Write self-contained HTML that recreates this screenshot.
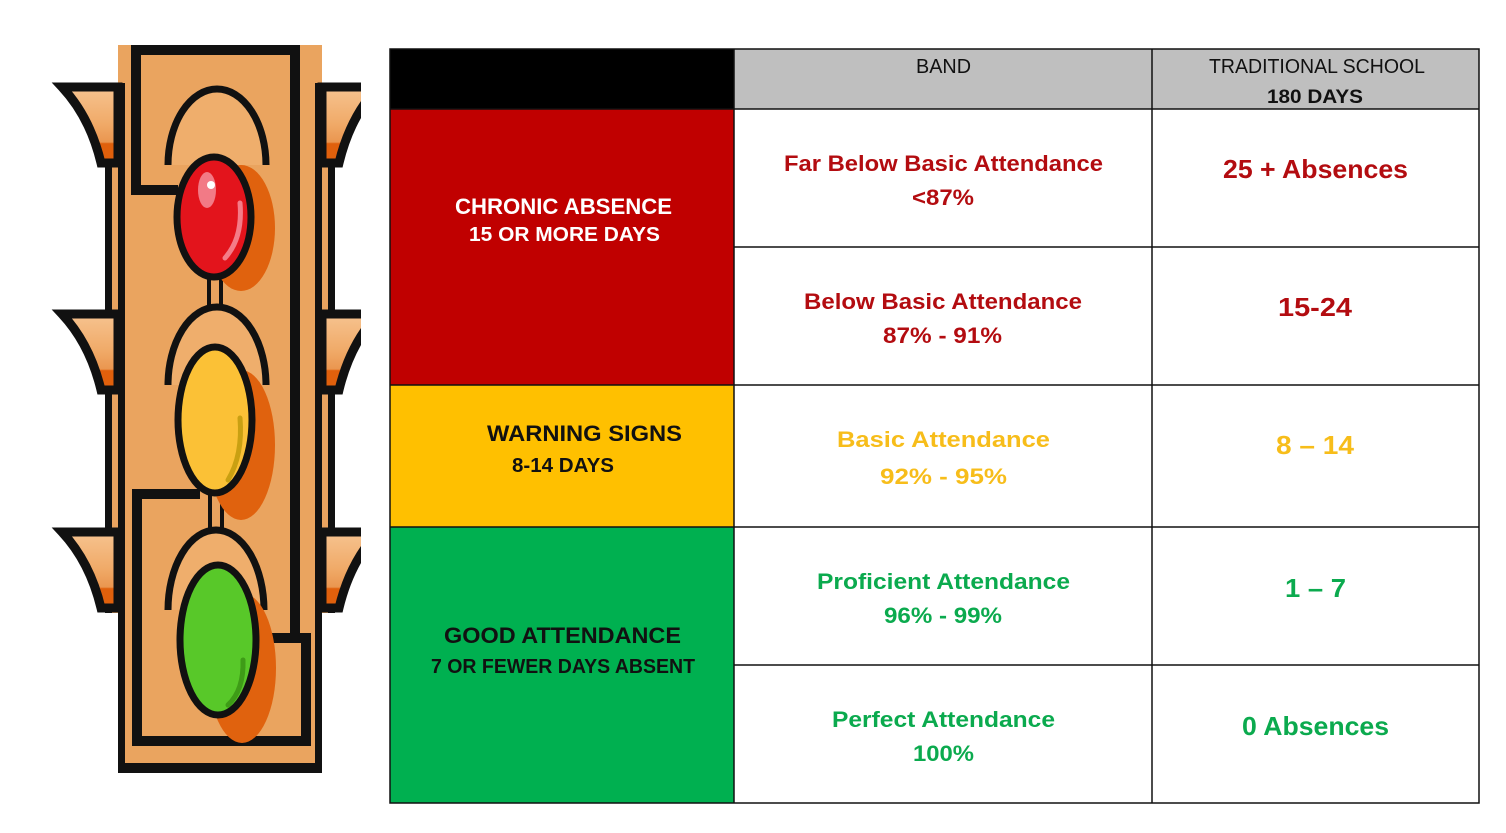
<!DOCTYPE html>
<html><head><meta charset="utf-8"><style>
html,body{margin:0;padding:0;background:#fff;}
svg{display:block;}
text{font-family:"Liberation Sans",Arial,sans-serif;}
.b{font-weight:bold;}
</style></head><body>
<svg width="1506" height="833" viewBox="0 0 1506 833" xmlns="http://www.w3.org/2000/svg">
<defs>
<clipPath id="c"><rect x="0" y="0" width="361" height="833"/></clipPath>
<linearGradient id="vg1" x1="0" y1="83" x2="0" y2="165" gradientUnits="userSpaceOnUse">
<stop offset="0" stop-color="#F7C694"/><stop offset="0.5" stop-color="#F0AA68"/><stop offset="0.72" stop-color="#EA9650"/><stop offset="0.74" stop-color="#E0600C"/><stop offset="1" stop-color="#E0600C"/>
</linearGradient>
<linearGradient id="vg2" x1="0" y1="310" x2="0" y2="392" gradientUnits="userSpaceOnUse">
<stop offset="0" stop-color="#F7C694"/><stop offset="0.5" stop-color="#F0AA68"/><stop offset="0.72" stop-color="#EA9650"/><stop offset="0.74" stop-color="#E0600C"/><stop offset="1" stop-color="#E0600C"/>
</linearGradient>
<linearGradient id="vg3" x1="0" y1="528" x2="0" y2="610" gradientUnits="userSpaceOnUse">
<stop offset="0" stop-color="#F7C694"/><stop offset="0.5" stop-color="#F0AA68"/><stop offset="0.72" stop-color="#EA9650"/><stop offset="0.74" stop-color="#E0600C"/><stop offset="1" stop-color="#E0600C"/>
</linearGradient>
</defs>
<rect width="1506" height="833" fill="#fff"/>

<!-- TRAFFIC LIGHT -->
<g clip-path="url(#c)">
  <rect x="118" y="45" width="204" height="728" fill="#EAA45F"/>
  <!-- left side -->
  <g>
    <rect x="105" y="83" width="20" height="530" fill="#E9A35F"/>
    <rect x="105" y="83" width="7" height="530" fill="#111"/>
    <path d="M62,314 L118,314 L118,390 L101,390 Q90,344 62,314 Z" fill="url(#vg2)" stroke="#111" stroke-width="9" stroke-linejoin="miter"/>
    <path d="M62,87 L118,87 L118,163 L101,163 Q90,117 62,87 Z" fill="url(#vg1)" stroke="#111" stroke-width="9" stroke-linejoin="miter"/>
    <path d="M62,532 L118,532 L118,608 L101,608 Q90,562 62,532 Z" fill="url(#vg3)" stroke="#111" stroke-width="9" stroke-linejoin="miter"/>
    <rect x="118" y="83" width="7" height="690" fill="#111"/>
  </g>
  <!-- right side (mirror) -->
  <g transform="translate(440,0) scale(-1,1)">
    <rect x="105" y="83" width="20" height="530" fill="#E9A35F"/>
    <rect x="105" y="83" width="7" height="530" fill="#111"/>
    <path d="M62,314 L118,314 L118,390 L101,390 Q90,344 62,314 Z" fill="url(#vg2)" stroke="#111" stroke-width="9" stroke-linejoin="miter"/>
    <path d="M62,87 L118,87 L118,163 L101,163 Q90,117 62,87 Z" fill="url(#vg1)" stroke="#111" stroke-width="9" stroke-linejoin="miter"/>
    <path d="M62,532 L118,532 L118,608 L101,608 Q90,562 62,532 Z" fill="url(#vg3)" stroke="#111" stroke-width="9" stroke-linejoin="miter"/>
    <rect x="118" y="83" width="7" height="690" fill="#111"/>
  </g>
  <rect x="118" y="763" width="204" height="10" fill="#111"/>
  <!-- frames -->
  <path d="M178,190 L136,190 L136,50 L295,50 L295,638 L250,638" fill="none" stroke="#111" stroke-width="10" stroke-linejoin="miter"/>
  <path d="M200,494 L137,494 L137,741 L306,741 L306,638 L290,638" fill="none" stroke="#111" stroke-width="10" stroke-linejoin="miter"/>
  <!-- necks -->
  <rect x="209" y="272" width="12" height="42" fill="#E9A35F" stroke="#111" stroke-width="4"/>
  <rect x="210" y="488" width="12" height="48" fill="#E9A35F" stroke="#111" stroke-width="4"/>
  <!-- red -->
  <path d="M168,165 A49,76 0 0 1 266,165" fill="#EFAE6C" stroke="#111" stroke-width="7"/>
  <ellipse cx="241" cy="228" rx="34" ry="63" fill="#E0620E"/>
  <ellipse cx="214" cy="217" rx="37" ry="60" fill="#E3141C" stroke="#111" stroke-width="7"/>
  <ellipse cx="207" cy="190" rx="9" ry="18" fill="#F27A86"/>
  <circle cx="211" cy="185" r="4" fill="#fff"/>
  <path d="M240,203 Q243,238 225,258" fill="none" stroke="#F47C88" stroke-width="5" stroke-linecap="round"/>
  <!-- yellow -->
  <path d="M168,385 A49,78 0 0 1 266,385" fill="#EFAE6C" stroke="#111" stroke-width="7"/>
  <ellipse cx="241" cy="445" rx="34" ry="75" fill="#E0620E"/>
  <ellipse cx="215" cy="420" rx="37" ry="73" fill="#FBC136" stroke="#111" stroke-width="7"/>
  <path d="M240,418 Q243,455 228,480" fill="none" stroke="#C9A012" stroke-width="5" stroke-linecap="round"/>
  <!-- green -->
  <path d="M168,610 A48,80 0 0 1 264,610" fill="#EFAE6C" stroke="#111" stroke-width="7"/>
  <ellipse cx="242" cy="668" rx="34" ry="75" fill="#E0620E"/>
  <ellipse cx="218" cy="640" rx="38" ry="75" fill="#58C829" stroke="#111" stroke-width="7"/>
  <path d="M243,660 Q244,690 228,705" fill="none" stroke="#3E9C17" stroke-width="5" stroke-linecap="round"/>
</g>

<!-- TABLE fills -->
<rect x="390" y="49" width="344" height="60" fill="#000"/>
<rect x="734" y="49" width="745" height="60" fill="#BFBFBF"/>
<rect x="390" y="109" width="344" height="276" fill="#C00000"/>
<rect x="390" y="385" width="344" height="142" fill="#FFC000"/>
<rect x="390" y="527" width="344" height="276" fill="#00B050"/>

<!-- grid lines -->
<g stroke="#111" stroke-width="1.5" fill="none">
  <rect x="390" y="49" width="1089" height="754"/>
  <line x1="734" y1="49" x2="734" y2="803"/>
  <line x1="1152" y1="49" x2="1152" y2="803"/>
  <line x1="390" y1="109" x2="1479" y2="109"/>
  <line x1="734" y1="247" x2="1479" y2="247"/>
  <line x1="390" y1="385" x2="1479" y2="385"/>
  <line x1="390" y1="527" x2="1479" y2="527"/>
  <line x1="734" y1="665" x2="1479" y2="665"/>
</g>

<!-- header text -->
<text x="916" y="73" font-size="20" fill="#111" textLength="55" lengthAdjust="spacingAndGlyphs">BAND</text>
<text x="1209" y="73" font-size="20" fill="#111" textLength="216" lengthAdjust="spacingAndGlyphs">TRADITIONAL SCHOOL</text>
<text class="b" x="1267" y="103" font-size="19" fill="#111" textLength="96" lengthAdjust="spacingAndGlyphs">180 DAYS</text>

<!-- column 1 -->
<text class="b" x="455" y="214" font-size="22" fill="#fff" textLength="217" lengthAdjust="spacingAndGlyphs">CHRONIC ABSENCE</text>
<text class="b" x="469" y="241" font-size="20" fill="#fff" textLength="191" lengthAdjust="spacingAndGlyphs">15 OR MORE DAYS</text>
<text class="b" x="487" y="441" font-size="22" fill="#111" textLength="195" lengthAdjust="spacingAndGlyphs">WARNING SIGNS</text>
<text class="b" x="512" y="472" font-size="20" fill="#111" textLength="102" lengthAdjust="spacingAndGlyphs">8-14 DAYS</text>
<text class="b" x="444" y="643" font-size="22" fill="#111" textLength="237" lengthAdjust="spacingAndGlyphs">GOOD ATTENDANCE</text>
<text class="b" x="431" y="673" font-size="20" fill="#111" textLength="264" lengthAdjust="spacingAndGlyphs">7 OR FEWER DAYS ABSENT</text>

<!-- column 2 -->
<g font-size="22" font-weight="bold">
<text x="784" y="171" fill="#B30C10" textLength="319" lengthAdjust="spacingAndGlyphs">Far Below Basic Attendance</text>
<text x="912" y="205" fill="#B30C10" textLength="62" lengthAdjust="spacingAndGlyphs">&lt;87%</text>
<text x="804" y="309" fill="#B30C10" textLength="278" lengthAdjust="spacingAndGlyphs">Below Basic Attendance</text>
<text x="883" y="343" fill="#B30C10" textLength="119" lengthAdjust="spacingAndGlyphs">87% - 91%</text>
<text x="837" y="447" fill="#F7BD1A" textLength="213" lengthAdjust="spacingAndGlyphs">Basic Attendance</text>
<text x="880" y="484" fill="#F7BD1A" textLength="127" lengthAdjust="spacingAndGlyphs">92% - 95%</text>
<text x="817" y="589" fill="#0BAA4E" textLength="253" lengthAdjust="spacingAndGlyphs">Proficient Attendance</text>
<text x="884" y="623" fill="#0BAA4E" textLength="118" lengthAdjust="spacingAndGlyphs">96% - 99%</text>
<text x="832" y="727" fill="#0BAA4E" textLength="223" lengthAdjust="spacingAndGlyphs">Perfect Attendance</text>
<text x="913" y="761" fill="#0BAA4E" textLength="61" lengthAdjust="spacingAndGlyphs">100%</text>
</g>

<!-- column 3 -->
<g font-size="26" font-weight="bold">
<text x="1223" y="178" fill="#B30C10" textLength="185" lengthAdjust="spacingAndGlyphs">25 + Absences</text>
<text x="1278" y="316" fill="#B30C10" textLength="74" lengthAdjust="spacingAndGlyphs">15-24</text>
<text x="1276" y="454" fill="#F7BD1A" textLength="78" lengthAdjust="spacingAndGlyphs">8 – 14</text>
<text x="1285" y="597" fill="#0BAA4E" textLength="61" lengthAdjust="spacingAndGlyphs">1 – 7</text>
<text x="1242" y="735" fill="#0BAA4E" textLength="147" lengthAdjust="spacingAndGlyphs">0 Absences</text>
</g>
</svg>
</body></html>
